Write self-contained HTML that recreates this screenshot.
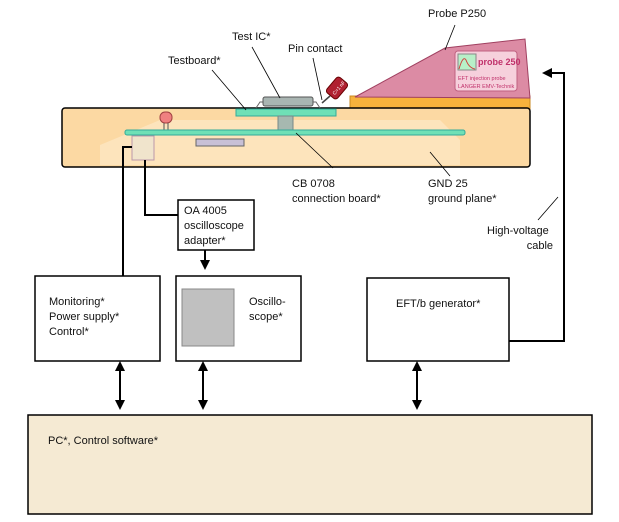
<!DOCTYPE html>
<html><head><meta charset="utf-8"><style>
html,body{margin:0;padding:0;background:#fff;}
svg{display:block;}
text{font-family:"Liberation Sans",sans-serif;font-size:11px;fill:#111;}
</style></head><body>
<svg width="619" height="522" viewBox="0 0 619 522" xmlns="http://www.w3.org/2000/svg">
<defs>
<marker id="ah" markerWidth="10" markerHeight="10" refX="7" refY="5" orient="auto" markerUnits="userSpaceOnUse"><path d="M0,0 L10,5 L0,10 z" fill="#000"/></marker>
<marker id="ahs" markerWidth="10" markerHeight="10" refX="3" refY="5" orient="auto-start-reverse" markerUnits="userSpaceOnUse"><path d="M0,0 L10,5 L0,10 z" fill="#000"/></marker>
</defs>
<!-- probe -->
<rect x="350" y="96" width="180" height="13" fill="#f7b23c" stroke="#c88a20"/>
<polygon points="355,97 445,48 525,39 530,98" fill="#dc8ba4" stroke="#a04060"/>
<rect x="455" y="51" width="62" height="40" rx="3" fill="#f6d0dc" stroke="#c06080"/>
<rect x="458" y="54" width="18" height="16" fill="#b8f0c8" stroke="#888"/>
<path d="M459,69 Q463,55 466,60 Q469,68 475,69" stroke="#d04040" fill="none"/>
<text x="478" y="65" style="font-size:9px;fill:#c0306a;font-weight:bold">probe 250</text>
<text x="458" y="80" style="font-size:5.5px;fill:#c0306a">EFT injection probe</text>
<text x="458" y="88" style="font-size:5.5px;fill:#c0306a">LANGER EMV-Technik</text>
<!-- pin contact -->
<g transform="translate(337,88) rotate(-50)">
<rect x="-10" y="-7" width="20" height="14" rx="3" fill="#b02030" stroke="#600"/>
<text x="-7" y="3" style="font-size:5px;fill:#fff">C=1 nF</text>
</g>
<line x1="330" y1="96" x2="322" y2="103" stroke="#444" stroke-width="1.5"/>
<!-- base -->
<rect x="62" y="108" width="468" height="59" rx="3" fill="#fcd9a3" stroke="#000" stroke-width="1.5"/>
<polygon points="100,165 100,145 160,120 440,120 460,140 460,165" fill="#fde4bc"/>
<!-- LED -->
<rect x="160" y="112" width="12" height="11" rx="5" fill="#f08080" stroke="#a04040"/>
<line x1="164" y1="123" x2="164" y2="130" stroke="#555"/><line x1="168" y1="123" x2="168" y2="130" stroke="#555"/>
<rect x="236" y="109" width="100" height="7" fill="#6fe0b6" stroke="#3a9"/>
<rect x="278" y="116" width="15" height="14" fill="#a6b8b0" stroke="#788"/>
<path d="M256,108 L260,102 L265,102 M311,102 L316,102 L320,108" stroke="#666" fill="none"/>
<rect x="263" y="97" width="50" height="9" rx="2" fill="#a9b5b2" stroke="#555"/>
<rect x="125" y="130" width="340" height="5" rx="2" fill="#6fe0b6" stroke="#3a9"/>
<rect x="196" y="139" width="48" height="7" fill="#c8c0d6" stroke="#666"/>
<rect x="132" y="136" width="22" height="24" fill="#f0e4cc" stroke="#b9a"/>
<!-- leader lines -->
<line x1="212" y1="70" x2="246" y2="110" stroke="#000" stroke-width="0.8"/>
<line x1="252" y1="47" x2="280" y2="98" stroke="#000" stroke-width="0.8"/>
<line x1="313" y1="58" x2="322" y2="100" stroke="#000" stroke-width="0.8"/>
<line x1="455" y1="25" x2="445" y2="50" stroke="#000" stroke-width="0.8"/>
<line x1="296" y1="133" x2="333" y2="168" stroke="#000" stroke-width="0.8"/>
<line x1="430" y1="152" x2="450" y2="176" stroke="#000" stroke-width="0.8"/>
<line x1="558" y1="197" x2="538" y2="220" stroke="#000" stroke-width="0.8"/>
<!-- labels -->
<text x="168" y="64">Testboard*</text>
<text x="232" y="40">Test IC*</text>
<text x="288" y="52">Pin contact</text>
<text x="428" y="17">Probe P250</text>
<text x="292" y="187">CB 0708</text>
<text x="292" y="202">connection board*</text>
<text x="428" y="187">GND 25</text>
<text x="428" y="202">ground plane*</text>
<text x="487" y="234">High-voltage</text>
<text x="553" y="249" text-anchor="end">cable</text>
<!-- wires -->
<polyline points="132,147 123,147 123,278" fill="none" stroke="#000" stroke-width="2"/>
<polyline points="145,160 145,215 178,215" fill="none" stroke="#000" stroke-width="2"/>
<line x1="205" y1="250" x2="205" y2="267" stroke="#000" stroke-width="2" marker-end="url(#ah)"/>
<polyline points="509,341 564,341 564,73 545,73" fill="none" stroke="#000" stroke-width="2" marker-end="url(#ah)"/>
<!-- boxes -->
<rect x="178" y="200" width="76" height="50" fill="#fff" stroke="#000" stroke-width="1.5"/>
<text x="184" y="214">OA 4005</text>
<text x="184" y="229">oscilloscope</text>
<text x="184" y="244">adapter*</text>
<rect x="35" y="276" width="125" height="85" fill="#fff" stroke="#000" stroke-width="1.5"/>
<text x="49" y="305">Monitoring*</text>
<text x="49" y="320">Power supply*</text>
<text x="49" y="335">Control*</text>
<rect x="176" y="276" width="125" height="85" fill="#fff" stroke="#000" stroke-width="1.5"/>
<rect x="182" y="289" width="52" height="57" fill="#c0c0c0" stroke="#888"/>
<text x="249" y="305">Oscillo-</text>
<text x="249" y="320">scope*</text>
<rect x="367" y="278" width="142" height="83" fill="#fff" stroke="#000" stroke-width="1.5"/>
<text x="396" y="307">EFT/b generator*</text>
<rect x="28" y="415" width="564" height="99" fill="#f5ead3" stroke="#000" stroke-width="1.5"/>
<text x="48" y="444">PC*, Control software*</text>
<!-- double arrows -->
<line x1="120" y1="368" x2="120" y2="407" stroke="#000" stroke-width="2" marker-start="url(#ahs)" marker-end="url(#ah)"/>
<line x1="203" y1="368" x2="203" y2="407" stroke="#000" stroke-width="2" marker-start="url(#ahs)" marker-end="url(#ah)"/>
<line x1="417" y1="368" x2="417" y2="407" stroke="#000" stroke-width="2" marker-start="url(#ahs)" marker-end="url(#ah)"/>
</svg>
</body></html>
